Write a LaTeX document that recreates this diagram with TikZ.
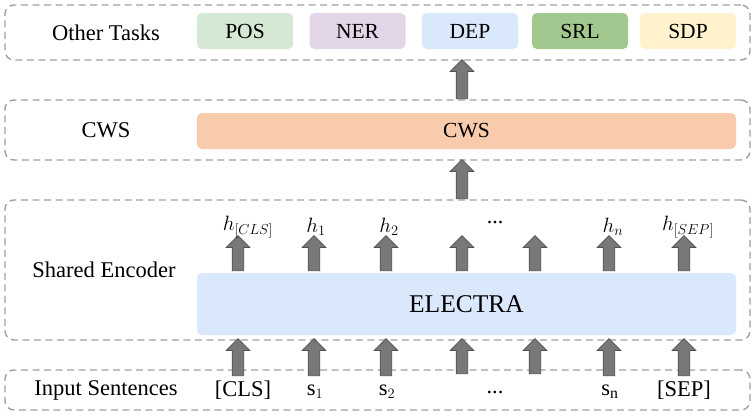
\documentclass[tikz,border=0pt]{standalone}
\usepackage{fontspec}
\setmainfont{Liberation Serif}
\usetikzlibrary{shapes.arrows}
\definecolor{groupgray}{HTML}{A0A0A0}
\definecolor{posgreen}{HTML}{D5E8D4}
\definecolor{nerpurple}{HTML}{E1D5E7}
\definecolor{depblue}{HTML}{DAE8FC}
\definecolor{srlgreen}{HTML}{A2C88F}
\definecolor{sdpyellow}{HTML}{FFF2CC}
\definecolor{cwsorange}{HTML}{F8CBAD}
\definecolor{arrowgray}{HTML}{787878}
\definecolor{arrowdark}{HTML}{505050}

\begin{document}
\begin{tikzpicture}[x=1pt,y=-1pt]
    \tikzset{groupbox/.style = {draw=groupgray,dash pattern=on 7pt off 4.5pt,line width=1.4pt,rounded corners=9pt,minimum width=745pt}}
    \tikzset{tasknode/.style = {rounded corners=5pt,minimum width=96pt,minimum height=36pt,font=\fontsize{21.5}{24}\selectfont}}
    \tikzset{sidetext/.style = {font=\fontsize{22.5}{26}\selectfont}}
    \tikzset{mathtext/.style = {font=\fontsize{22}{26}\selectfont}}
    \tikzset{blockup/.style = {single arrow,rotate=90,anchor=tail,draw=arrowdark,fill=arrowgray,line width=0.7pt,
        inner xsep=0pt,inner ysep=5.5pt,single arrow head extend=6pt,minimum width=23pt}}
    \useasboundingbox (0,0) rectangle (755,415);
    % groups
    \node[groupbox,minimum height=55pt] (gtasks) at (377.5,32.5) {};
    \node[groupbox,minimum height=60pt] (gcws) at (377.5,130) {};
    \node[groupbox,minimum height=140pt] (genc) at (377.5,270) {};
    \node[groupbox,minimum height=40pt] (ginput) at (377.5,390) {};

    \node[sidetext] (ltasks) at (106,33) {Other Tasks};
    \node[sidetext] (lcws) at (106,130) {CWS};
    \node[sidetext] (lenc) at (104,270) {Shared Encoder};
    \node[sidetext] (linput) at (106,390) {Input Sentences};

    % tasks
    \node[tasknode,fill=posgreen] (pos) at (245,31) {POS};
    \node[tasknode,fill=nerpurple] (ner) at (357.5,31) {NER};
    \node[tasknode,fill=depblue] (dep) at (470,31) {DEP};
    \node[tasknode,fill=srlgreen] (srl) at (580,31) {SRL};
    \node[tasknode,fill=sdpyellow] (sdp) at (688,31) {SDP};

    \node[tasknode,fill=cwsorange,minimum width=539pt] (cws) at (466.5,131) {CWS};
    \node[tasknode,fill=depblue,minimum width=539pt,minimum height=62pt,font=\fontsize{25.5}{30}\selectfont] (electra) at (466.5,304) {ELECTRA};

    % arrows between groups
    \node[blockup,minimum height=39pt] (up1) at (462,99) {};
    \node[blockup,minimum height=39pt] (up2) at (462,199) {};

    % hidden states
    \node[blockup,minimum height=35pt] (o1) at (238,271) {};
    \node[blockup,minimum height=35pt] (o2) at (314,271) {};
    \node[blockup,minimum height=35pt] (o3) at (386,271) {};
    \node[blockup,minimum height=35pt] (o4) at (462,271) {};
    \node[blockup,minimum height=35pt] (o5) at (535,271) {};
    \node[blockup,minimum height=35pt] (o6) at (609,271) {};
    \node[blockup,minimum height=35pt] (o7) at (684,271) {};

    \node[mathtext] (hcls) at (248,227) {$h_{[CLS]}$};
    \node[mathtext] (h1) at (316,227) {$h_1$};
    \node[mathtext] (h2) at (389,227) {$h_2$};
    \node[mathtext] (hdots) at (495,223) {...};
    \node[mathtext] (hn) at (613,227) {$h_n$};
    \node[mathtext] (hsep) at (688,227) {$h_{[SEP]}$};

    % inputs
    \node[blockup,minimum height=37pt] (i1) at (238,376) {};
    \node[blockup,minimum height=37pt] (i2) at (314,376) {};
    \node[blockup,minimum height=37pt] (i3) at (386,376) {};
    \node[blockup,minimum height=35pt] (i4) at (462,374) {};
    \node[blockup,minimum height=35pt] (i5) at (535,374) {};
    \node[blockup,minimum height=37pt] (i6) at (609,376) {};
    \node[blockup,minimum height=37pt] (i7) at (684,376) {};

    \node[sidetext] (tcls) at (243,390) {[CLS]};
    \node[sidetext] (ts1) at (315,392) {$\mathrm{s}_1$};
    \node[sidetext] (ts2) at (387,392) {$\mathrm{s}_2$};
    \node[sidetext] (tdots) at (495,392) {...};
    \node[sidetext] (tsn) at (610,392) {$\mathrm{s}_\mathrm{n}$};
    \node[sidetext] (tsep) at (684,390) {[SEP]};
\end{tikzpicture}
\end{document}
